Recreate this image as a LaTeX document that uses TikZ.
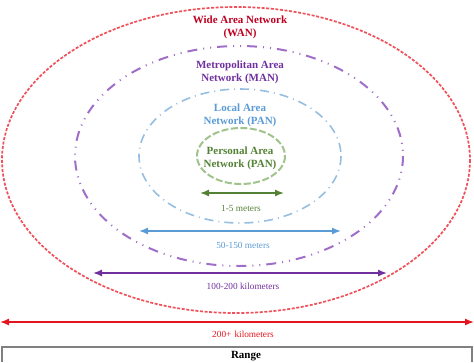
\documentclass[tikz,border=0pt]{standalone}
\usepackage{fontspec}
\setmainfont{Liberation Serif}
\usetikzlibrary{arrows.meta}
\definecolor{wantext}{RGB}{192,0,32}
\definecolor{wanline}{RGB}{240,80,90}
\definecolor{wanarrow}{RGB}{230,20,30}
\definecolor{mantext}{RGB}{112,48,160}
\definecolor{manline}{RGB}{160,110,200}
\definecolor{lantext}{RGB}{91,155,213}
\definecolor{lanline}{RGB}{150,190,225}
\definecolor{pantext}{RGB}{84,130,53}
\definecolor{panline}{RGB}{160,195,140}
\begin{document}
\begin{tikzpicture}[x=1pt,y=-1pt,
  title/.style={font=\bfseries\fontsize{11}{13}\selectfont, align=center, inner sep=0pt},
  lbl/.style={font=\fontsize{9.3}{11}\selectfont, inner sep=0pt},
  rng/.style={{Latex[length=9pt,width=7pt]}-{Latex[length=9pt,width=7pt]}, line width=1.4pt}]
\useasboundingbox (0,0) rectangle (474,362);
% ellipses
\draw[wanline, line width=1.7pt, dash pattern=on 3pt off 1.6pt] (236,160) ellipse [x radius=234, y radius=153];
\draw[manline, line width=2pt, dash pattern=on 10pt off 6pt on 1pt off 6pt on 1pt off 6pt] (239,156) ellipse [x radius=164, y radius=110];
\draw[lanline, line width=1.6pt, dash pattern=on 9pt off 5pt on 1pt off 5pt] (240,156) ellipse [x radius=101, y radius=67];
\draw[panline, line width=2pt, dash pattern=on 7pt off 2.5pt] (241,156) ellipse [x radius=44, y radius=28];
% titles
\node[title, text=wantext] (wan) at (240,27) {Wide Area Network\\(WAN)};
\node[title, text=mantext] (man) at (240,72) {Metropolitan Area\\Network (MAN)};
\node[title, text=lantext] (lan) at (240,115) {Local Area\\Network (PAN)};
\node[title, text=pantext] (pan) at (240,158) {Personal Area\\Network (PAN)};
% range arrows
\coordinate (p1) at (200,193); \coordinate (p2) at (284,193);
\draw[rng, pantext] (p1) -- (p2);
\node[lbl, text=pantext] (pl) at (241,208) {1-5 meters};
\coordinate (l1) at (139,231); \coordinate (l2) at (341,231);
\draw[rng, lantext] (l1) -- (l2);
\node[lbl, text=lantext] (ll) at (243,245) {50-150 meters};
\coordinate (m1) at (93,273); \coordinate (m2) at (387,273);
\draw[rng, mantext] (m1) -- (m2);
\node[lbl, text=mantext] (ml) at (243,286) {100-200 kilometers};
\coordinate (w1) at (0,322); \coordinate (w2) at (474,322);
\draw[rng, wanarrow] (w1) -- (w2);
\node[lbl, text=wanarrow] (wl) at (243,334) {200+\,\,kilometers};
% range bracket
\coordinate (b1) at (2,362); \coordinate (b2) at (2,347); \coordinate (b3) at (472,347); \coordinate (b4) at (472,362);
\draw[gray, line width=1.5pt] (b1) -- (b2) -- (b3) -- (b4);
\node[font=\bfseries\fontsize{11}{12}\selectfont, inner sep=0pt] (range) at (246,356) {Range};
\end{tikzpicture}
\end{document}
